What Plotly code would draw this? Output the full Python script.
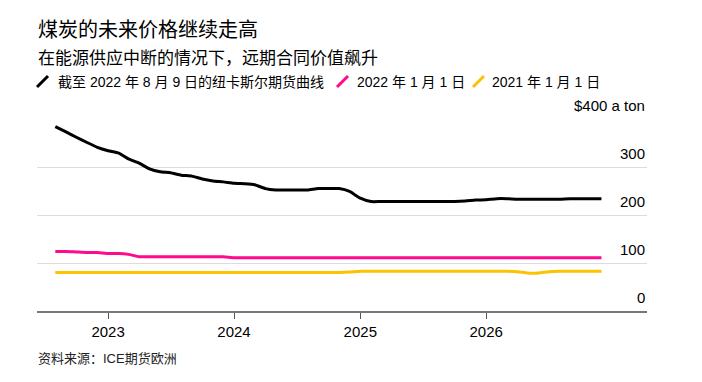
import pandas as pd
import plotly.graph_objects as go

# ---- data ----
months = pd.date_range("2022-08-01", periods=53, freq="MS")

newcastle_2022_08_09 = [384, 373, 362, 351, 341, 334, 329, 317, 308, 296, 290, 288, 283, 281,
                        275, 271, 269, 266, 265, 263, 255, 252, 252, 252, 252, 255, 255, 255,
                        249, 235, 228, 228, 228, 228, 228, 228, 228, 228, 228, 229, 231, 232,
                        234, 234, 233, 233, 233, 233, 233, 234, 234, 234, 234]
curve_2022_01_01 = [124, 124, 123, 122, 122, 120, 120, 118, 113, 113, 113, 113, 113, 113,
                    113, 113, 113, 111, 111, 111, 111, 111, 111, 111, 111, 111, 111, 111,
                    111, 111, 111, 111, 111, 111, 111, 111, 111, 111, 111, 111, 111, 111,
                    111, 111, 111, 111, 111, 111, 111, 111, 111, 111, 111]
curve_2021_01_01 = [80, 80, 80, 80, 80, 80, 80, 80, 80, 80, 80, 80, 80, 80,
                    80, 80, 80, 80, 80, 80, 80, 80, 80, 80, 80, 80, 80, 80,
                    81, 83, 83, 83, 83, 83, 83, 83, 83, 83, 83, 83, 83, 83,
                    83, 83, 82, 79, 79, 82, 83, 83, 83, 83, 83]

series_names = ["截至 2022 年 8 月 9 日的纽卡斯尔期货曲线", "2022 年 1 月 1 日", "2021 年 1 月 1 日"]
series_colors = ["#000000", "#ff0a8c", "#fcc200"]
series_values = [newcastle_2022_08_09, curve_2022_01_01, curve_2021_01_01]

y_tick_vals = [0, 100, 200, 300, 400]
y_tick_text = ["0", "100", "200", "300", "$400 a ton"]
x_tick_vals = ["2023-01-01", "2024-01-01", "2025-01-01", "2026-01-01"]
x_tick_text = ["2023", "2024", "2025", "2026"]

title = "煤炭的未来价格继续走高"
subtitle = "在能源供应中断的情况下，远期合同价值飙升"
source = "资料来源：ICE期货欧洲"

FONT = "Liberation Sans, Arial, Noto Sans CJK SC, sans-serif"

# ---- layout geometry (pixels) ----
W, H = 702, 382
L, R, T, B = 37, 55, 119, 71
pw, ph = W - L - R, H - T - B


def px(x):
    return (x - L) / pw


def py(y):
    return (H - B - y) / ph


fig = go.Figure()
for name, color, vals in zip(series_names, series_colors, series_values):
    fig.add_trace(go.Scatter(x=months, y=vals, mode="lines", name=name,
                             line=dict(color=color, width=3, shape="spline", smoothing=0.5),
                             showlegend=False, hoverinfo="skip"))

annotations = [
    dict(text=title, x=px(36), y=py(30), xref="paper", yref="paper", xanchor="left",
         yanchor="middle", showarrow=False, font=dict(size=20, color="#000", family=FONT)),
    dict(text=subtitle, x=px(36), y=py(58), xref="paper", yref="paper", xanchor="left",
         yanchor="middle", showarrow=False, font=dict(size=17, color="#000", family=FONT)),
    dict(text=source, x=px(36), y=py(358), xref="paper", yref="paper", xanchor="left",
         yanchor="middle", showarrow=False, font=dict(size=13, color="#222", family=FONT)),
]

shapes = []
legend_mark_x = [37, 337, 473]
legend_text_x = [56, 355, 490]
for name, color, mx, tx in zip(series_names, series_colors, legend_mark_x, legend_text_x):
    shapes.append(dict(type="line", xref="paper", yref="paper",
                       x0=px(mx), y0=py(87), x1=px(mx + 11), y1=py(76),
                       line=dict(color=color, width=3)))
    annotations.append(dict(text=name, x=px(tx), y=py(82), xref="paper", yref="paper",
                            xanchor="left", yanchor="middle", showarrow=False,
                            font=dict(size=14, color="#000", family=FONT)))

for v, t in zip(y_tick_vals, y_tick_text):
    annotations.append(dict(text=t, x=1, y=v, xref="paper", yref="y", xanchor="right",
                            yanchor="bottom", yshift=3, showarrow=False,
                            font=dict(size=15, color="#000", family=FONT)))

fig.update_layout(
    width=W, height=H,
    margin=dict(l=L, r=R, t=T, b=B),
    paper_bgcolor="white", plot_bgcolor="white",
    font=dict(family=FONT, color="#000"),
    annotations=annotations, shapes=shapes,
    xaxis=dict(range=["2022-06-09", "2027-04-12"], tickvals=x_tick_vals, ticktext=x_tick_text,
               showgrid=False, showline=True, linecolor="#777", linewidth=2,
               ticks="outside", ticklen=6, tickcolor="#555", tickwidth=1,
               tickfont=dict(size=15, color="#000", family=FONT), zeroline=False),
    yaxis=dict(range=[0, 400], tickvals=y_tick_vals, showticklabels=False,
               showgrid=True, gridcolor="#dcdcdc", gridwidth=1, zeroline=False,
               showline=False),
)

fig.write_html("out.html")
